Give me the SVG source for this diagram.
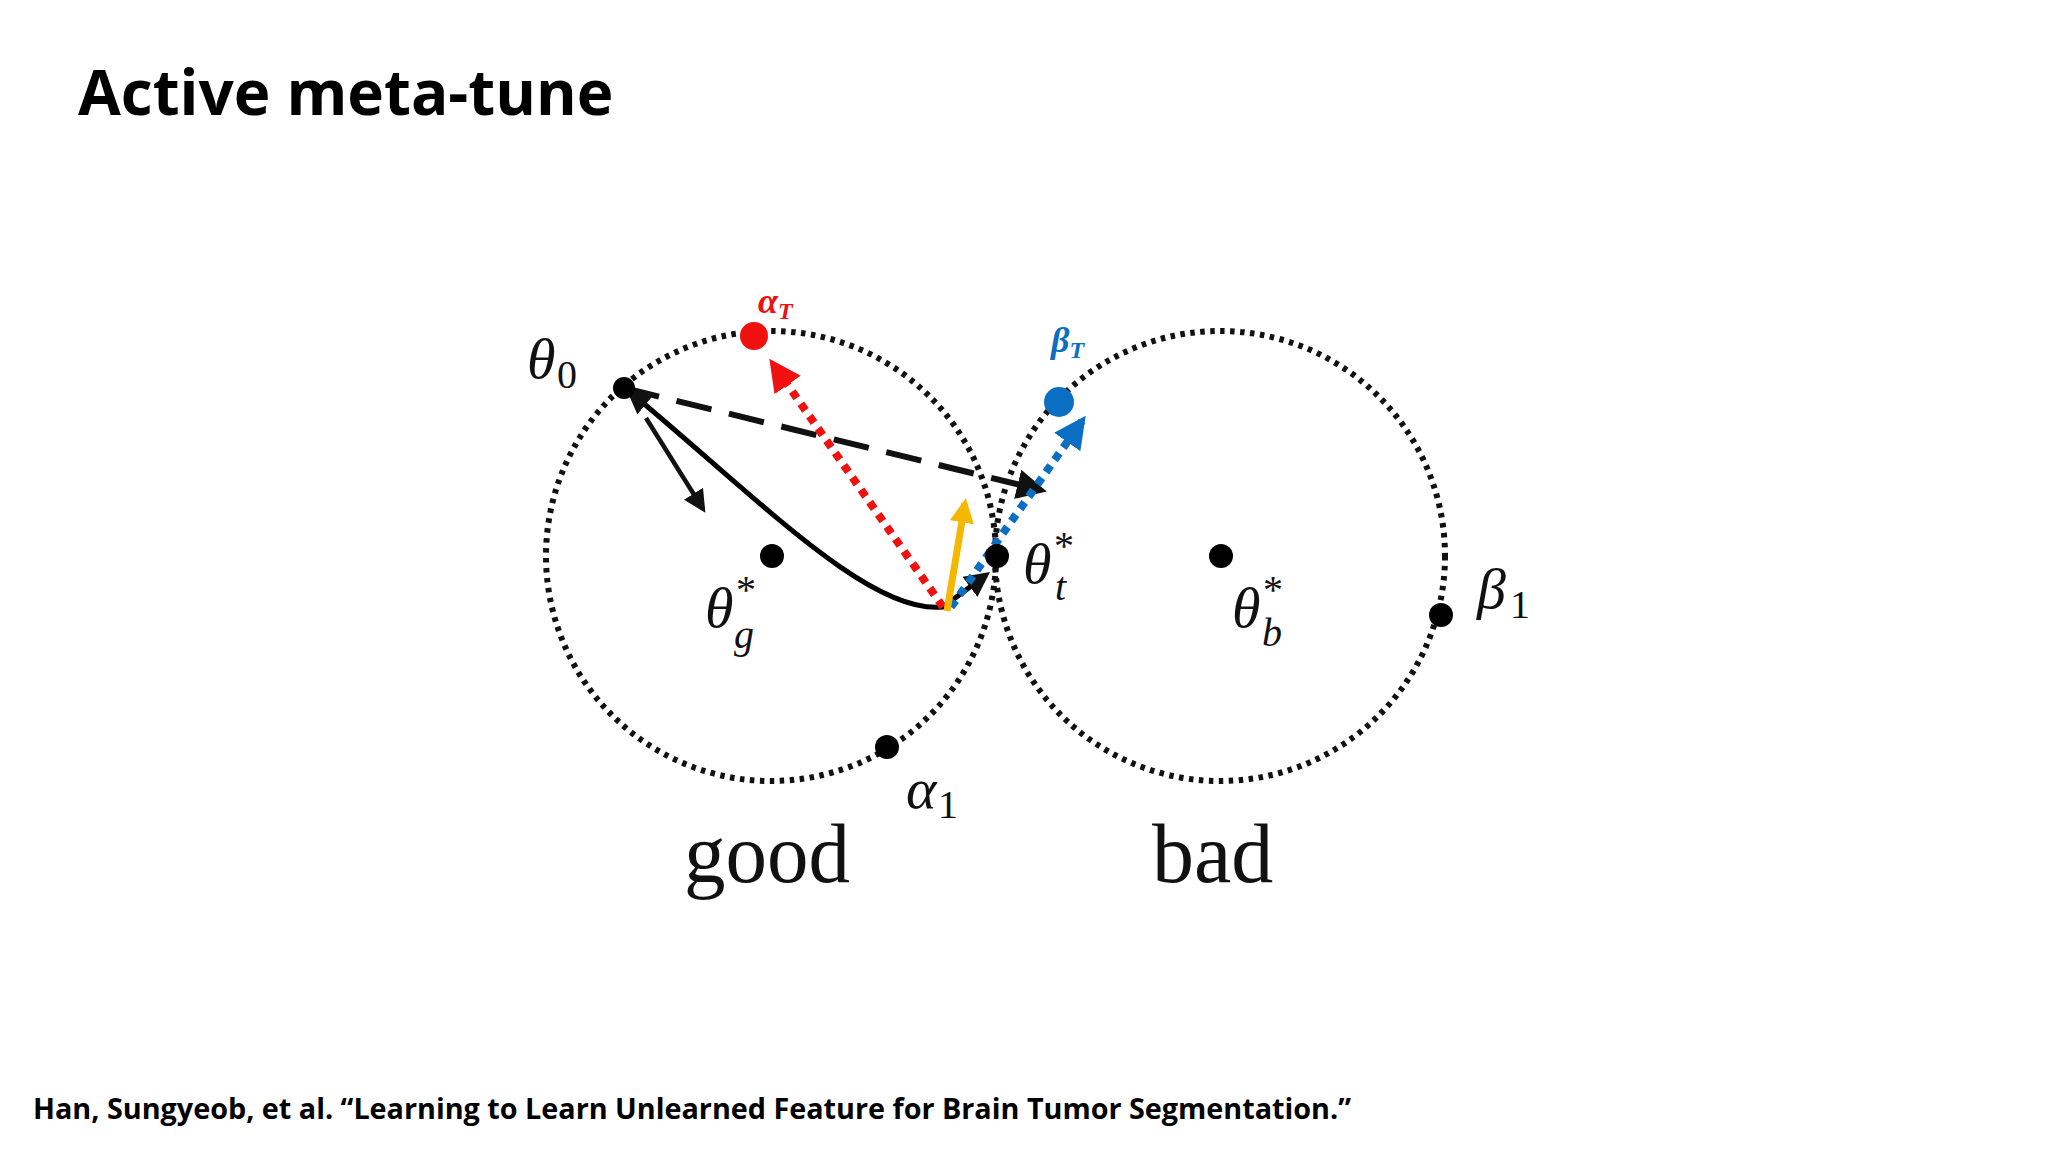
<svg xmlns="http://www.w3.org/2000/svg" width="2048" height="1152" viewBox="0 0 2048 1152">
<style>
.ring{fill:none;stroke:#111;stroke-width:6;stroke-dasharray:4.5 5.5}
.dot{fill:#000}
.m{font-family:"Liberation Serif",serif;font-style:italic;fill:#111;font-size:58px}
.sub{font-family:"Liberation Serif",serif;fill:#111;font-size:40px}
.si{font-family:"Liberation Serif",serif;font-style:italic;fill:#111;font-size:40px}
.big{font-family:"Liberation Serif",serif;fill:#111;font-size:84px}
</style>
<defs>
<marker id="ak" viewBox="0 0 10 10" refX="8" refY="5" markerWidth="5" markerHeight="5" orient="auto-start-reverse"><path d="M0,0L10,5L0,10z" fill="#111"/></marker>
<marker id="ar" viewBox="0 0 10 10" refX="8" refY="5" markerWidth="4" markerHeight="4" orient="auto"><path d="M0,0L10,5L0,10z" fill="#f01010"/></marker>
<marker id="ab" viewBox="0 0 10 10" refX="8" refY="5" markerWidth="4" markerHeight="4" orient="auto"><path d="M0,0L10,5L0,10z" fill="#0a6fc2"/></marker>
<marker id="ay" viewBox="0 0 10 10" refX="8" refY="5" markerWidth="3.5" markerHeight="3.5" orient="auto"><path d="M0,0L10,5L0,10z" fill="#f5b800"/></marker>
</defs>
<rect width="2048" height="1152" fill="#fff"/>
<text x="78" y="115" font-family="'Open Sans','Noto Sans CJK KR',sans-serif" font-weight="bold" font-size="62" fill="#000">Active meta-tune</text>
<text x="33" y="1119" font-family="'Open Sans','Noto Sans CJK KR',sans-serif" font-weight="bold" font-size="28" fill="#000" textLength="1318" lengthAdjust="spacingAndGlyphs">Han, Sungyeob, et al. “Learning to Learn Unlearned Feature for Brain Tumor Segmentation.”</text>
<g id="good-region"><circle class="ring" cx="771" cy="556" r="225"/><text class="big" x="684" y="882" textLength="166" lengthAdjust="spacingAndGlyphs">good</text></g>
<g id="bad-region"><circle class="ring" cx="1220" cy="556" r="225"/><text class="big" x="1152" y="882">bad</text></g>
<g id="connectors" fill="none">
<path d="M624,388 L1041,490" stroke="#111" stroke-width="6" stroke-dasharray="36 18" marker-end="url(#ak)"/>
<path d="M646,418 L703,509" stroke="#111" stroke-width="4.5" marker-end="url(#ak)"/>
<path d="M630,392 C760,500 870,615 943,607 L986,575" stroke="#000" stroke-width="5" marker-start="url(#ak)" marker-end="url(#ak)"/>
<path d="M943,607 L773,364" stroke="#f01010" stroke-width="8" stroke-dasharray="8 7" marker-end="url(#ar)"/>
<path d="M951,607 L1082,421" stroke="#0a6fc2" stroke-width="8" stroke-dasharray="8 7" marker-end="url(#ab)"/>
<path d="M947,611 L965,503" stroke="#f5b800" stroke-width="7" marker-end="url(#ay)"/>
</g>
<g id="theta0"><circle class="dot" cx="624" cy="388" r="11"/><text class="m" x="527" y="378">θ</text><text class="sub" x="557" y="388">0</text></g>
<g id="alphaT"><circle cx="754" cy="336" r="14" fill="#f01010"/><text x="758" y="313" font-family="'Liberation Serif',serif" font-style="italic" font-weight="bold" font-size="36" fill="#f01010">α<tspan font-size="24" dy="6">T</tspan></text></g>
<g id="betaT"><circle cx="1059" cy="402" r="15" fill="#0a6fc2"/><text x="1051" y="352" font-family="'Liberation Serif',serif" font-style="italic" font-weight="bold" font-size="36" fill="#0a6fc2">β<tspan font-size="24" dy="6">T</tspan></text></g>
<g id="theta-g"><circle class="dot" cx="772" cy="556" r="12"/><text class="m" x="705" y="627">θ</text><text class="sub" x="736" y="603">*</text><text class="si" x="734" y="648">g</text></g>
<g id="theta-t"><circle class="dot" cx="997" cy="556" r="12"/><text class="m" x="1023" y="583">θ</text><text class="sub" x="1054" y="559">*</text><text class="si" x="1055" y="600">t</text></g>
<g id="theta-b"><circle class="dot" cx="1221" cy="556" r="12"/><text class="m" x="1232" y="627">θ</text><text class="sub" x="1263" y="603">*</text><text class="si" x="1262" y="646">b</text></g>
<g id="beta1"><circle class="dot" cx="1441" cy="615" r="12"/><text class="m" x="1477" y="608">β</text><text class="sub" x="1510" y="618">1</text></g>
<g id="alpha1"><circle class="dot" cx="887" cy="747" r="12"/><text class="m" x="906" y="808">α</text><text class="sub" x="938" y="818">1</text></g>
</svg>
